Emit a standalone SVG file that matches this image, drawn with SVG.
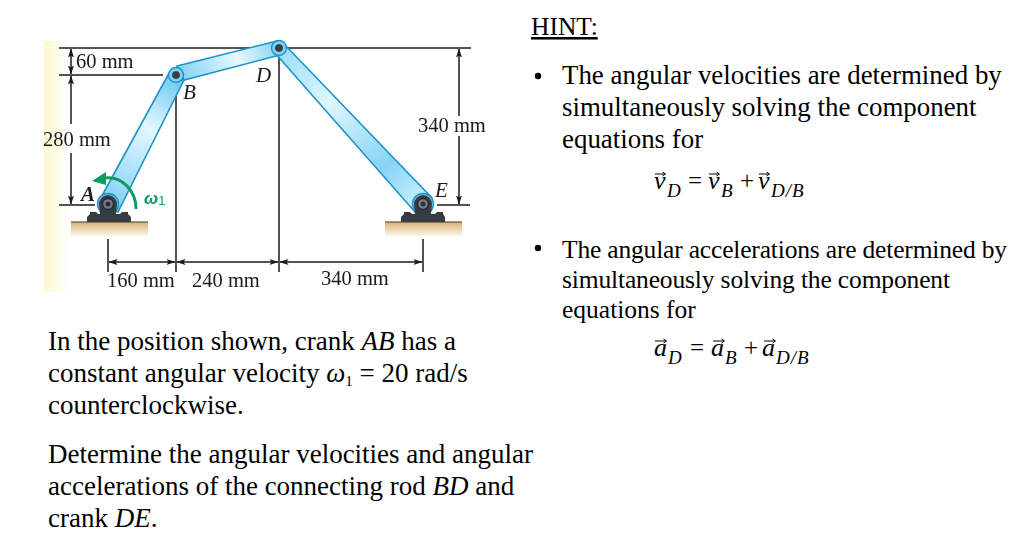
<svg xmlns="http://www.w3.org/2000/svg" width="1024" height="549" viewBox="0 0 1024 549">
<style>
text{font-family:"Liberation Serif","Times New Roman",serif;fill:#000}
.body{font-size:26.9px}
.prob{font-size:27px}
.body2{font-size:25.5px}
.dim{font-size:20.500px;fill:#1a1a1a}
.lab{font-size:21px;font-style:italic;fill:#1a1a1a}
.eq{font-size:26px;font-style:italic}
.sub{font-size:19px;font-style:italic}
.eqn{font-size:25px}
.l{stroke:#1a1a1a;stroke-width:1.5;fill:none}
.vec{stroke:#000;stroke-width:1;fill:none}
.link{stroke:#1c93c9;stroke-width:1.6}
.pinb{fill:#3a3f45;stroke:#222;stroke-width:.6}
</style>
<defs>
<linearGradient id="wall" x1="0" x2="1" y1="0" y2="0"><stop offset="0" stop-color="#fdf8cf"/><stop offset="1" stop-color="#fff"/></linearGradient>
<linearGradient id="ground" x1="0" x2="0" y1="0" y2="1"><stop offset="0" stop-color="#d9b174"/><stop offset="1" stop-color="#fdf7ec"/></linearGradient>
<linearGradient id="ab" gradientUnits="userSpaceOnUse" x1="108" y1="205" x2="175" y2="75"><stop offset="0" stop-color="#7fd0f3"/><stop offset=".6" stop-color="#e3f7fe"/><stop offset="1" stop-color="#6cc7ef"/></linearGradient>
<linearGradient id="bd" gradientUnits="userSpaceOnUse" x1="175" y1="75" x2="279" y2="47"><stop offset="0" stop-color="#7ccff3"/><stop offset=".6" stop-color="#e6f8fe"/><stop offset="1" stop-color="#86d3f3"/></linearGradient>
<linearGradient id="de" gradientUnits="userSpaceOnUse" x1="279" y1="47" x2="423" y2="205"><stop offset="0" stop-color="#98dcf7"/><stop offset=".35" stop-color="#dff7fe"/><stop offset=".75" stop-color="#86d4f4"/><stop offset="1" stop-color="#cdf2fd"/></linearGradient>
<marker id="ah" markerWidth="9" markerHeight="6" refX="8.5" refY="3" orient="auto-start-reverse" markerUnits="userSpaceOnUse"><path d="M0 0L9 3L0 6L2 3Z" fill="#1a1a1a"/></marker>
<filter id="soft" x="-5%" y="-5%" width="110%" height="110%"><feGaussianBlur stdDeviation=".45"/></filter>
</defs>

<g id="figure" filter="url(#soft)">
<rect id="wall-bg" x="44" y="41" width="26" height="251" fill="url(#wall)"/>
<g id="ground-A"><rect x="71" y="222" width="77" height="14" fill="url(#ground)"/><path d="M71 222H148" stroke="#4a3a20" stroke-width="1.2"/></g>
<g id="ground-E"><rect x="385" y="222" width="77" height="14" fill="url(#ground)"/><path d="M385 222H462" stroke="#4a3a20" stroke-width="1.2"/></g>

<g id="connectors">
<path class="l" d="M59 48H471M59 75H163M59 205H95M437 205H470"/>
<path class="l" d="M176 85V272M279 50V272M108 239V272M423 239V272"/>
<path class="l" marker-start="url(#ah)" marker-end="url(#ah)" d="M71 49V74"/>
<path class="l" marker-end="url(#ah)" d="M71 124V76"/>
<path class="l" marker-end="url(#ah)" d="M71 153V204"/>
<path class="l" marker-end="url(#ah)" d="M459 116V49"/>
<path class="l" marker-end="url(#ah)" d="M459 136V204"/>
<path class="l" marker-start="url(#ah)" marker-end="url(#ah)" d="M109 262H175"/>
<path class="l" marker-start="url(#ah)" marker-end="url(#ah)" d="M177 262H278"/>
<path class="l" marker-start="url(#ah)" marker-end="url(#ah)" d="M280 262H422"/>
</g>

<g id="link-AB"><path class="link" fill="url(#ab)" d="M98 203L168 75L184 80L118 212Z"/></g>
<g id="link-BD"><path class="link" fill="url(#bd)" d="M177 66L277 41L280 55L184 80Z"/></g>
<g id="link-DE"><path class="link" fill="url(#de)" d="M284 44L432 198L415 212L275 53Z"/></g>

<g id="node-B"><circle cx="176" cy="75" r="7.500" fill="#7fd0f2" stroke="#1c93c9" stroke-width="1.4"/><circle class="pinb" cx="176" cy="75" r="3.600"/></g>
<g id="node-D"><circle cx="279" cy="48" r="7.500" fill="#7fd0f2" stroke="#1c93c9" stroke-width="1.4"/><circle class="pinb" cx="279" cy="48" r="3.600"/></g>
<g id="node-A">
<circle cx="108" cy="204" r="10.500" fill="#7fd0f2" stroke="#1c93c9" stroke-width="1.4"/>
<path fill="#343a41" d="M87 222V217L90 214V212H96L98 214H100L99 204A9 9 0 0 1 117 204L116 214H120L122 212H128V214L131 217V222Z"/>
<circle cx="108" cy="204" r="5.500" fill="#777d83" stroke="#23282d" stroke-width="1.300"/><circle cx="108" cy="204" r="2.500" fill="#2a2f35"/>
</g>
<g id="node-E">
<circle cx="423" cy="204" r="10.500" fill="#7fd0f2" stroke="#1c93c9" stroke-width="1.4"/>
<path fill="#343a41" d="M401 222V217L404 214V212H410L412 214H415L414 204A9 9 0 0 1 432 204L431 214H435L437 212H443V214L445 217V222Z"/>
<circle cx="423" cy="204" r="5.500" fill="#777d83" stroke="#23282d" stroke-width="1.300"/><circle cx="423" cy="204" r="2.500" fill="#2a2f35"/>
</g>

<g id="omega-arrow"><path d="M136 209A28 31 0 0 0 104 178" fill="none" stroke="#0f9b62" stroke-width="3"/><path d="M92 181L106 172L106 185Z" fill="#0f9b62"/></g>

<text class="dim" x="76" y="68">60 mm</text>
<text class="dim" x="43" y="146">280 mm</text>
<text class="dim" x="418" y="132">340 mm</text>
<text class="dim" x="107" y="287">160 mm</text>
<text class="dim" x="192" y="287">240 mm</text>
<text class="dim" x="321" y="285">340 mm</text>
<text class="lab" x="183" y="99" font-size="20">B</text>
<text class="lab" x="256" y="82">D</text>
<text class="lab" x="81" y="201" font-weight="bold">A</text>
<text class="lab" x="435" y="197">E</text>
<text x="144" y="204" style="font-family:'Liberation Sans',sans-serif;font-size:17px;font-style:italic;font-weight:bold;fill:#0f9b62">ω<tspan font-size="13" dy="1" style="font-style:normal;font-weight:normal">1</tspan></text>
</g>

<g id="problem-text">
<text class="prob" x="48" y="350">In the position shown, crank <tspan font-style="italic">AB</tspan> has a</text>
<text class="prob" x="48" y="382">constant angular velocity <tspan font-style="italic">ω</tspan><tspan font-size="15" dy="4">1</tspan><tspan dy="-4"> = 20 rad/s</tspan></text>
<text class="prob" x="48" y="414">counterclockwise.</text>
<text class="prob" x="48" y="463">Determine the angular velocities and angular</text>
<text class="prob" x="48" y="495">accelerations of the connecting rod <tspan font-style="italic">BD</tspan> and</text>
<text class="prob" x="48" y="527">crank <tspan font-style="italic">DE</tspan>.</text>
</g>

<g id="hint-text">
<text class="body2" x="531" y="35" text-decoration="underline">HINT:</text>
<circle cx="538" cy="76" r="3.200" fill="#000"/>
<text class="body" x="562" y="84">The angular velocities are determined by</text>
<text class="body" x="562" y="116">simultaneously solving the component</text>
<text class="body" x="562" y="148">equations for</text>
<g id="eq-velocity">
<text class="eq" x="654" y="189">v</text><text class="sub" x="667" y="197">D</text>
<text class="eqn" x="688" y="189">=</text>
<text class="eq" x="708" y="189">v</text><text class="sub" x="721" y="197">B</text>
<text class="eqn" x="740" y="189">+</text>
<text class="eq" x="758" y="189">v</text><text class="sub" x="771" y="197" letter-spacing="1">D/B</text>
<path class="vec" d="M655 174H665M662.500 172L665.500 174L662.500 176M709 174H719M716.500 172L719.500 174L716.500 176M759 174H769M766.500 172L769.500 174L766.500 176"/>
</g>
<circle cx="538" cy="248" r="3.200" fill="#000"/>
<text class="body2" x="562" y="258" textLength="445">The angular accelerations are determined by</text>
<text class="body2" x="562" y="288" textLength="388">simultaneously solving the component</text>
<text class="body2" x="562" y="318">equations for</text>
<g id="eq-acceleration">
<text class="eq" x="654" y="356">a</text><text class="sub" x="668" y="364">D</text>
<text class="eqn" x="690" y="356">=</text>
<text class="eq" x="711" y="356">a</text><text class="sub" x="725" y="364">B</text>
<text class="eqn" x="744" y="356">+</text>
<text class="eq" x="762" y="356">a</text><text class="sub" x="776" y="364" letter-spacing="1">D/B</text>
<path class="vec" d="M655 341H666M663.500 339L666.500 341L663.500 343M713 341H724M721.500 339L724.500 341L721.500 343M764 341H775M772.500 339L775.500 341L772.500 343"/>
</g>
</g>
</svg>
